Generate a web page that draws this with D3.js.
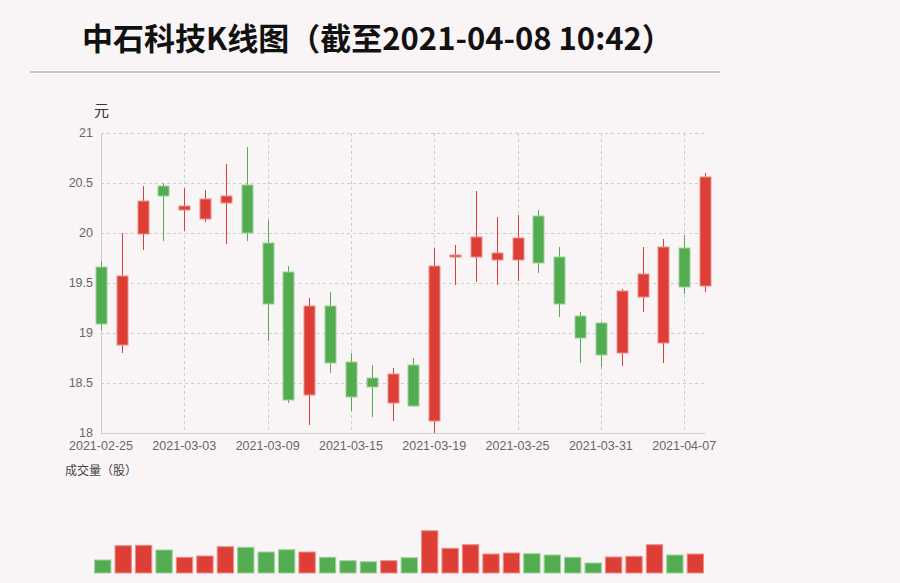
<!DOCTYPE html>
<html>
    <head>
        <meta charset="utf-8">
        <style>
            body {
                margin: 0;
                background: #f9f5f6;
            }

            svg {
                display: block;
            }

            text {
                font-family: "Liberation Sans", Arial, sans-serif;
            }

            .title {
                font-family: "Noto Sans CJK SC", sans-serif;
                font-weight: bold;
                font-size: 31px;
                fill: #111;
            }

            .axis-label {
                font-size: 12.5px;
                fill: #666;
            }

            .cjk {
                font-family: "Noto Sans CJK SC", sans-serif;
            }

            line.grid {
                stroke: #ccc;
                stroke-dasharray: 3,3;
            }

            line.axis {
                stroke: #ccc;
            }

            .up { fill: #dd3f36; stroke: #dd3f36; }
            .down { fill: #53ad50; stroke: #53ad50; }
            rect.up { stroke: #ec8f8a; }
            rect.down { stroke: #9fd19d; }
        </style>

        <script src="https://cdn.jsdelivr.net/npm/d3@7"></script>

        <script type="text/javascript">

            var canvas_w = 900;
            var canvas_h = 583;

            // trading days
            var dates = ["2021-02-25", "2021-02-26", "2021-03-01", "2021-03-02", "2021-03-03",
                         "2021-03-04", "2021-03-05", "2021-03-08", "2021-03-09", "2021-03-10",
                         "2021-03-11", "2021-03-12", "2021-03-15", "2021-03-16", "2021-03-17",
                         "2021-03-18", "2021-03-19", "2021-03-22", "2021-03-23", "2021-03-24",
                         "2021-03-25", "2021-03-26", "2021-03-29", "2021-03-30", "2021-03-31",
                         "2021-04-01", "2021-04-02", "2021-04-06", "2021-04-07", "2021-04-08"];

            var open_p  = [19.66, 18.88, 19.99, 20.47, 20.23, 20.14, 20.30, 20.48, 19.90, 19.61,
                           18.38, 19.27, 18.71, 18.55, 18.30, 18.68, 18.12, 19.76, 19.76, 19.73,
                           19.73, 20.17, 19.76, 19.17, 19.10, 18.80, 19.36, 18.90, 19.85, 19.47];
            var close_p = [19.09, 19.57, 20.32, 20.37, 20.27, 20.34, 20.37, 20.00, 19.29, 18.33,
                           19.27, 18.70, 18.36, 18.46, 18.59, 18.27, 19.67, 19.78, 19.96, 19.80,
                           19.95, 19.70, 19.29, 18.95, 18.78, 19.42, 19.59, 19.86, 19.46, 20.56];
            var high_p  = [19.72, 20.00, 20.47, 20.50, 20.45, 20.43, 20.69, 20.86, 20.13, 19.67,
                           19.35, 19.41, 18.80, 18.68, 18.65, 18.75, 19.85, 19.88, 20.42, 20.16,
                           20.18, 20.23, 19.86, 19.21, 19.11, 19.44, 19.86, 19.94, 19.98, 20.60];
            var low_p   = [19.03, 18.80, 19.83, 19.92, 20.02, 20.11, 19.89, 19.92, 18.92, 18.30,
                           18.08, 18.60, 18.22, 18.16, 18.12, 18.26, 18.00, 19.48, 19.51, 19.48,
                           19.52, 19.60, 19.16, 18.70, 18.66, 18.67, 19.21, 18.70, 19.39, 19.41];

            // volume (shares)
            var volume = [1300000, 2730000, 2770000, 2300000, 1570000, 1700000, 2630000, 2570000, 2100000, 2330000,
                          2100000, 1570000, 1230000, 1130000, 1230000, 1530000, 4230000, 2470000, 2830000, 1900000,
                          2000000, 1930000, 1800000, 1570000, 1000000, 1600000, 1670000, 2830000, 1800000, 1900000];

            var y_ticks = [18, 18.5, 19, 19.5, 20, 20.5, 21];
            var x_tick_every = 4;

            function init() {
                var svg = d3.select("#canvas").append("svg")
                            .attr("width", canvas_w).attr("height", canvas_h);

                // title + rule
                svg.append("text").attr("class", "title")
                   .attr("x", 82).attr("y", 50)
                   .text("中石科技K线图（截至2021-04-08 10:42）");
                svg.append("line")
                   .attr("x1", 30).attr("x2", 720).attr("y1", 72).attr("y2", 72)
                   .attr("stroke", "#c8c6c7").attr("stroke-width", 2);

                var x = d3.scalePoint().domain(dates).range([101, 705]);
                var y = d3.scaleLinear().domain([18, 21]).range([433, 133]);

                var g = svg.append("g");

                // horizontal grid
                g.selectAll("line.hgrid").data(y_ticks.slice(1)).enter().append("line")
                 .attr("class", "grid")
                 .attr("x1", 101).attr("x2", 704)
                 .attr("y1", function(d) { return y(d) + 0.5; })
                 .attr("y2", function(d) { return y(d) + 0.5; });

                var x_ticks = dates.filter(function(d, i) { return i % x_tick_every == 0; });

                // vertical grid
                g.selectAll("line.vgrid").data(x_ticks.slice(1)).enter().append("line")
                 .attr("class", "grid")
                 .attr("x1", function(d) { return Math.round(x(d)) + 0.5; })
                 .attr("x2", function(d) { return Math.round(x(d)) + 0.5; })
                 .attr("y1", 133).attr("y2", 433);

                // axis lines
                g.append("line").attr("class", "axis")
                 .attr("x1", 101.5).attr("x2", 101.5).attr("y1", 133).attr("y2", 433.5);
                g.append("line").attr("class", "axis")
                 .attr("x1", 101).attr("x2", 705).attr("y1", 433.5).attr("y2", 433.5);

                // y labels
                g.selectAll("text.ylab").data(y_ticks).enter().append("text")
                 .attr("class", "axis-label")
                 .attr("x", 93).attr("y", function(d) { return y(d); })
                 .attr("dy", "0.35em")
                 .attr("text-anchor", "end")
                 .text(function(d) { return d; });

                // x labels
                g.selectAll("text.xlab").data(x_ticks).enter().append("text")
                 .attr("class", "axis-label")
                 .attr("x", function(d) { return x(d); }).attr("y", 450)
                 .attr("text-anchor", "middle")
                 .text(function(d) { return d; });

                svg.append("text").attr("class", "cjk")
                   .attr("x", 94).attr("y", 116)
                   .attr("font-size", 15).attr("fill", "#333")
                   .text("元");

                // candles
                var candle_w = 11;
                var candles = g.selectAll("g.candle").data(dates).enter().append("g")
                               .attr("class", function(d, i) { return close_p[i] >= open_p[i] ? "up" : "down"; });

                candles.append("line")
                       .attr("x1", function(d) { return Math.round(x(d)) + 0.5; })
                       .attr("x2", function(d) { return Math.round(x(d)) + 0.5; })
                       .attr("y1", function(d, i) { return y(high_p[i]); })
                       .attr("y2", function(d, i) { return y(low_p[i]); })
                       .attr("stroke-width", 1);

                candles.append("rect")
                       .attr("class", function(d, i) { return close_p[i] >= open_p[i] ? "up" : "down"; })
                       .attr("x", function(d) { return Math.round(x(d)) - candle_w / 2 + 0.5; })
                       .attr("y", function(d, i) { return y(Math.max(open_p[i], close_p[i])); })
                       .attr("width", candle_w)
                       .attr("height", function(d, i) {
                           return Math.max(1.5, Math.abs(y(open_p[i]) - y(close_p[i])));
                       })
                       .attr("stroke-width", 1);

                // volume panel
                svg.append("text").attr("class", "cjk")
                   .attr("x", 65).attr("y", 475)
                   .attr("font-size", 12).attr("fill", "#444")
                   .text("成交量（股）");

                var xv = d3.scaleBand().domain(dates).range([90.5, 707.6]).padding(0.2);
                var yv = d3.scaleLinear().domain([0, 5000000]).range([573, 523]);

                svg.append("g").selectAll("rect").data(dates).enter().append("rect")
                   .attr("class", function(d, i) { return close_p[i] >= open_p[i] ? "up" : "down"; })
                   .attr("x", function(d) { return xv(d); })
                   .attr("y", function(d, i) { return yv(volume[i]); })
                   .attr("width", xv.bandwidth())
                   .attr("height", function(d, i) { return yv(0) - yv(volume[i]); })
                   .attr("stroke-width", 1);
            }
        </script>
    </head>

    <body onload="init()">
        <div id="canvas"></div>
    </body>
</html>
